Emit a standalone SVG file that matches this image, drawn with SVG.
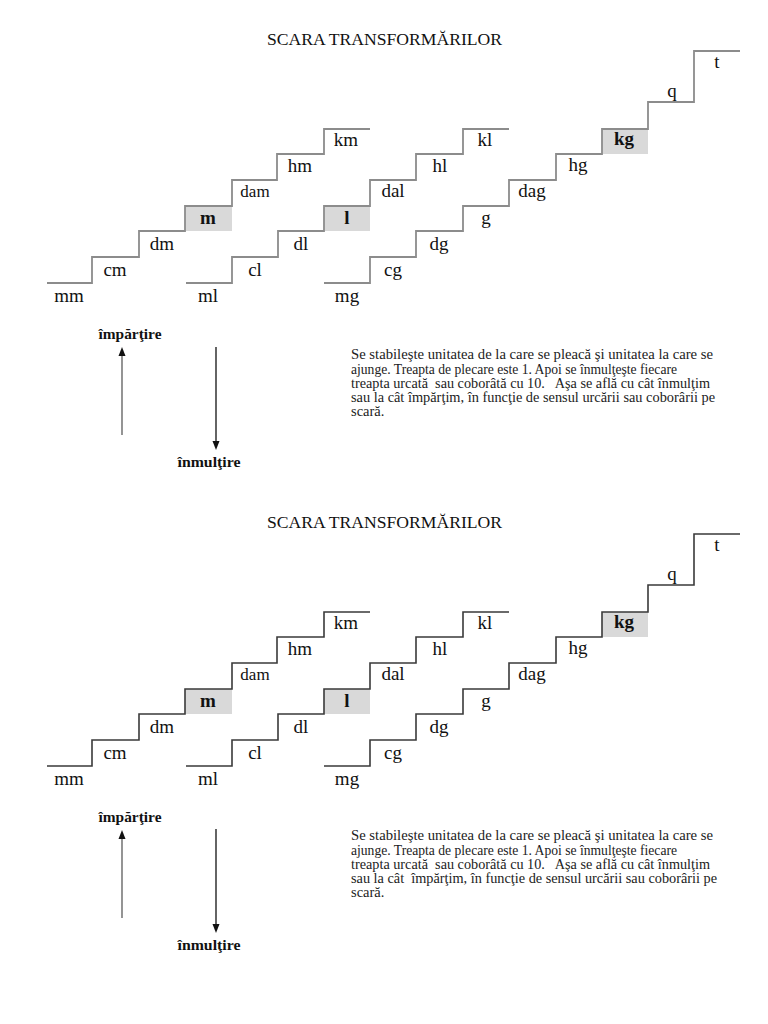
<svg xmlns="http://www.w3.org/2000/svg" width="768" height="1024" viewBox="0 0 768 1024">
<defs>
<style>
.bg{fill:#ffffff}
.title{font-family:"Liberation Serif","Times New Roman",serif;font-size:16px;fill:#111;text-anchor:middle}
.lbl{font-family:"Liberation Serif","Times New Roman",serif;font-size:19px;fill:#111;text-anchor:middle}
.small{font-size:17px}
.bold{font-weight:bold}
.arr{font-family:"Liberation Serif","Times New Roman",serif;font-size:15px;font-weight:bold;fill:#111;text-anchor:middle}
.para{font-family:"Liberation Serif","Times New Roman",serif;font-size:14.5px;fill:#222;white-space:pre}
.stairA{fill:none;stroke:#8c8c8c;stroke-width:1.8}
.stairB{fill:none;stroke:#3a3a3a;stroke-width:1.6}
.box{fill:#d9d9d9}
.upline{stroke:#7a7a7a;stroke-width:1.6}
.downline{stroke:#111;stroke-width:1.3}
.head{fill:#111}
</style>
</defs>
<rect class="bg" x="0" y="0" width="768" height="1024"/>

<!-- ============ TOP COPY ============ -->
<g id="top">
<text id="a-title" class="title" x="384.5" y="45" textLength="235" lengthAdjust="spacingAndGlyphs">SCARA TRANSFORMĂRILOR</text>

<g id="a-boxes">
<rect id="a-box-m" class="box" x="185" y="206" width="47" height="25"/>
<rect id="a-box-l" class="box" x="324" y="206" width="46" height="25"/>
<rect id="a-box-kg" class="box" x="602" y="129" width="46" height="25"/>
</g>

<g id="a-connectors">
<polyline id="a-stair-m" class="stairA" points="47,283 92,283 92,257 139,257 139,231 185,231 185,206 232,206 232,180 277,180 277,154 324,154 324,129 370,129"/>
<polyline id="a-stair-l" class="stairA" points="186,283 232,283 232,257 278,257 278,231 324,231 324,206 370,206 370,180 416,180 416,154 463,154 463,129 509,129"/>
<polyline id="a-stair-g" class="stairA" points="324,283 370,283 370,257 416,257 416,231 463,231 463,206 509,206 509,180 556,180 556,154 602,154 602,129 648,129 648,102 694,102 694,51 740,51"/>
<line id="a-arrow-up" class="upline" x1="122" y1="435" x2="122" y2="354"/>
<polygon class="head" points="122,347 118.5,356 125.5,356"/>
<line id="a-arrow-down" class="downline" x1="216" y1="347" x2="216" y2="443"/>
<polygon class="head" points="216,450 212.5,441 219.5,441"/>
</g>

<g id="a-mm"><text class="lbl" x="69" y="302">mm</text></g>
<g id="a-cm"><text class="lbl" x="115" y="276">cm</text></g>
<g id="a-dm"><text class="lbl" x="162" y="250">dm</text></g>
<g id="a-m"><text class="lbl bold" x="208" y="224">m</text></g>
<g id="a-dam"><text class="lbl small" x="255" y="197">dam</text></g>
<g id="a-hm"><text class="lbl" x="300" y="172">hm</text></g>
<g id="a-km"><text class="lbl" x="346" y="146">km</text></g>

<g id="a-ml"><text class="lbl" x="208" y="302">ml</text></g>
<g id="a-cl"><text class="lbl" x="255" y="276">cl</text></g>
<g id="a-dl"><text class="lbl" x="301" y="250">dl</text></g>
<g id="a-l"><text class="lbl bold" x="347" y="224">l</text></g>
<g id="a-dal"><text class="lbl" x="393" y="197">dal</text></g>
<g id="a-hl"><text class="lbl" x="440" y="172">hl</text></g>
<g id="a-kl"><text class="lbl" x="485" y="146">kl</text></g>

<g id="a-mg"><text class="lbl" x="347" y="302">mg</text></g>
<g id="a-cg"><text class="lbl" x="393" y="276">cg</text></g>
<g id="a-dg"><text class="lbl" x="439" y="250">dg</text></g>
<g id="a-g"><text class="lbl" x="486" y="224">g</text></g>
<g id="a-dag"><text class="lbl" x="532" y="197">dag</text></g>
<g id="a-hg"><text class="lbl" x="578" y="171">hg</text></g>
<g id="a-kg"><text class="lbl bold" x="624" y="145">kg</text></g>
<g id="a-q"><text class="lbl" x="672" y="97">q</text></g>
<g id="a-t"><text class="lbl" x="717" y="68">t</text></g>

<g id="a-impartire"><text class="arr" x="130" y="339" textLength="63" lengthAdjust="spacingAndGlyphs">împărţire</text></g>
<g id="a-inmultire"><text class="arr" x="209" y="467" textLength="63" lengthAdjust="spacingAndGlyphs">înmulţire</text></g>

<g id="a-note">
<text class="para" x="351" y="359" textLength="362" lengthAdjust="spacingAndGlyphs">Se stabileşte unitatea de la care se pleacă şi unitatea la care se</text>
<text class="para" x="351" y="373.5" textLength="326" lengthAdjust="spacingAndGlyphs">ajunge. Treapta de plecare este 1. Apoi se înmulţeşte fiecare</text>
<text class="para" x="351" y="388" textLength="359" lengthAdjust="spacingAndGlyphs">treapta urcată  sau coborâtă cu 10.   Aşa se află cu cât înmulţim</text>
<text class="para" x="351" y="402" textLength="364" lengthAdjust="spacingAndGlyphs">sau la cât împărţim, în funcţie de sensul urcării sau coborârii pe</text>
<text class="para" x="351" y="416">scară.</text>
</g>
</g>

<!-- ============ BOTTOM COPY ============ -->
<g id="bottom">
<text id="b-title" class="title" x="384.5" y="528" textLength="235" lengthAdjust="spacingAndGlyphs">SCARA TRANSFORMĂRILOR</text>

<g id="b-boxes">
<rect id="b-box-m" class="box" x="185" y="689" width="47" height="25"/>
<rect id="b-box-l" class="box" x="324" y="689" width="46" height="25"/>
<rect id="b-box-kg" class="box" x="602" y="612" width="46" height="25"/>
</g>

<g id="b-connectors">
<polyline id="b-stair-m" class="stairB" points="47,766 92,766 92,740 139,740 139,714 185,714 185,689 232,689 232,663 277,663 277,637 324,637 324,612 370,612"/>
<polyline id="b-stair-l" class="stairB" points="186,766 232,766 232,740 278,740 278,714 324,714 324,689 370,689 370,663 416,663 416,637 463,637 463,612 509,612"/>
<polyline id="b-stair-g" class="stairB" points="324,766 370,766 370,740 416,740 416,714 463,714 463,689 509,689 509,663 556,663 556,637 602,637 602,612 648,612 648,585 694,585 694,534 740,534"/>
<line id="b-arrow-up" class="upline" x1="122" y1="918" x2="122" y2="837"/>
<polygon class="head" points="122,830 118.5,839 125.5,839"/>
<line id="b-arrow-down" class="downline" x1="216" y1="829" x2="216" y2="926"/>
<polygon class="head" points="216,933 212.5,924 219.5,924"/>
</g>

<g id="b-mm"><text class="lbl" x="69" y="785">mm</text></g>
<g id="b-cm"><text class="lbl" x="115" y="759">cm</text></g>
<g id="b-dm"><text class="lbl" x="162" y="733">dm</text></g>
<g id="b-m"><text class="lbl bold" x="208" y="707">m</text></g>
<g id="b-dam"><text class="lbl small" x="255" y="680">dam</text></g>
<g id="b-hm"><text class="lbl" x="300" y="655">hm</text></g>
<g id="b-km"><text class="lbl" x="346" y="629">km</text></g>

<g id="b-ml"><text class="lbl" x="208" y="785">ml</text></g>
<g id="b-cl"><text class="lbl" x="255" y="759">cl</text></g>
<g id="b-dl"><text class="lbl" x="301" y="733">dl</text></g>
<g id="b-l"><text class="lbl bold" x="347" y="707">l</text></g>
<g id="b-dal"><text class="lbl" x="393" y="680">dal</text></g>
<g id="b-hl"><text class="lbl" x="440" y="655">hl</text></g>
<g id="b-kl"><text class="lbl" x="485" y="629">kl</text></g>

<g id="b-mg"><text class="lbl" x="347" y="785">mg</text></g>
<g id="b-cg"><text class="lbl" x="393" y="759">cg</text></g>
<g id="b-dg"><text class="lbl" x="439" y="733">dg</text></g>
<g id="b-g"><text class="lbl" x="486" y="707">g</text></g>
<g id="b-dag"><text class="lbl" x="532" y="680">dag</text></g>
<g id="b-hg"><text class="lbl" x="578" y="654">hg</text></g>
<g id="b-kg"><text class="lbl bold" x="624" y="628">kg</text></g>
<g id="b-q"><text class="lbl" x="672" y="580">q</text></g>
<g id="b-t"><text class="lbl" x="717" y="551">t</text></g>

<g id="b-impartire"><text class="arr" x="130" y="822" textLength="63" lengthAdjust="spacingAndGlyphs">împărţire</text></g>
<g id="b-inmultire"><text class="arr" x="209" y="950" textLength="63" lengthAdjust="spacingAndGlyphs">înmulţire</text></g>

<g id="b-note">
<text class="para" x="351" y="840" textLength="362" lengthAdjust="spacingAndGlyphs">Se stabileşte unitatea de la care se pleacă şi unitatea la care se</text>
<text class="para" x="351" y="854.5" textLength="326" lengthAdjust="spacingAndGlyphs">ajunge. Treapta de plecare este 1. Apoi se înmulţeşte fiecare</text>
<text class="para" x="351" y="869" textLength="359" lengthAdjust="spacingAndGlyphs">treapta urcată  sau coborâtă cu 10.   Aşa se află cu cât înmulţim</text>
<text class="para" x="351" y="883" textLength="366" lengthAdjust="spacingAndGlyphs">sau la cât  împărţim, în funcţie de sensul urcării sau coborârii pe</text>
<text class="para" x="351" y="897">scară.</text>
</g>
</g>
</svg>
